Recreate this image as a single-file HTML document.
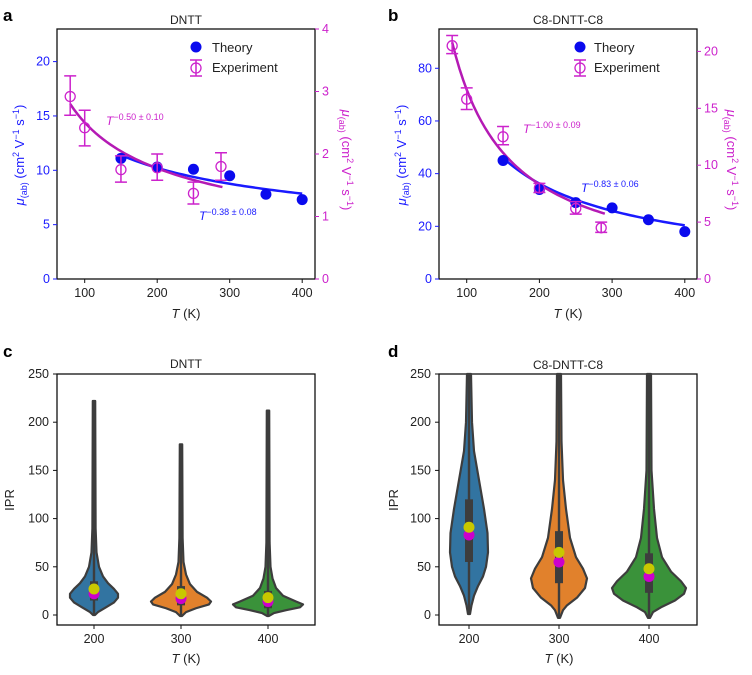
<!DOCTYPE html><html><head><meta charset="utf-8"><style>
body{margin:0;background:#fff;width:752px;height:670px;overflow:hidden}
svg{font-family:"Liberation Sans",sans-serif}
</style></head><body>
<svg id="s" width="752" height="670" xmlns="http://www.w3.org/2000/svg">
<g font-size="12" fill="#222">
<text x="3" y="21" font-size="17" font-weight="bold" fill="#000">a</text>
<text x="388" y="21" font-size="17" font-weight="bold" fill="#000">b</text>
<text x="3" y="357" font-size="17" font-weight="bold" fill="#000">c</text>
<text x="388" y="357" font-size="17" font-weight="bold" fill="#000">d</text>
<text x="186" y="24" text-anchor="middle">DNTT</text>
<text x="568" y="24" text-anchor="middle">C8-DNTT-C8</text>
<text x="186" y="368" text-anchor="middle">DNTT</text>
<text x="568" y="369" text-anchor="middle">C8-DNTT-C8</text>
<text x="186" y="318" text-anchor="middle" font-size="13"><tspan font-style="italic">T</tspan> (K)</text>
<text x="568" y="318" text-anchor="middle" font-size="13"><tspan font-style="italic">T</tspan> (K)</text>
<text x="186" y="663" text-anchor="middle" font-size="13"><tspan font-style="italic">T</tspan> (K)</text>
<text x="559" y="663" text-anchor="middle" font-size="13"><tspan font-style="italic">T</tspan> (K)</text>
<text transform="translate(14,500) rotate(-90)" text-anchor="middle" font-size="13">IPR</text>
<text transform="translate(398,500) rotate(-90)" text-anchor="middle" font-size="13">IPR</text>
<text transform="translate(24,155) rotate(-90)" text-anchor="middle" font-size="13" fill="#1a1aff"><tspan font-style="italic">μ</tspan><tspan font-size="9" dy="3">(ab)</tspan><tspan dy="-3"> (cm</tspan><tspan font-size="9" dy="-5">2</tspan><tspan dy="5"> V</tspan><tspan font-size="9" dy="-5">−1</tspan><tspan dy="5"> s</tspan><tspan font-size="9" dy="-5">−1</tspan><tspan dy="5">)</tspan></text>
<text transform="translate(406,155) rotate(-90)" text-anchor="middle" font-size="13" fill="#1a1aff"><tspan font-style="italic">μ</tspan><tspan font-size="9" dy="3">(ab)</tspan><tspan dy="-3"> (cm</tspan><tspan font-size="9" dy="-5">2</tspan><tspan dy="5"> V</tspan><tspan font-size="9" dy="-5">−1</tspan><tspan dy="5"> s</tspan><tspan font-size="9" dy="-5">−1</tspan><tspan dy="5">)</tspan></text>
<text transform="translate(342,160) rotate(90)" text-anchor="middle" font-size="13" fill="#cc22cc"><tspan font-style="italic">μ</tspan><tspan font-size="9" dy="3">(ab)</tspan><tspan dy="-3"> (cm</tspan><tspan font-size="9" dy="-5">2</tspan><tspan dy="5"> V</tspan><tspan font-size="9" dy="-5">−1</tspan><tspan dy="5"> s</tspan><tspan font-size="9" dy="-5">−1</tspan><tspan dy="5">)</tspan></text>
<text transform="translate(727,160) rotate(90)" text-anchor="middle" font-size="13" fill="#cc22cc"><tspan font-style="italic">μ</tspan><tspan font-size="9" dy="3">(ab)</tspan><tspan dy="-3"> (cm</tspan><tspan font-size="9" dy="-5">2</tspan><tspan dy="5"> V</tspan><tspan font-size="9" dy="-5">−1</tspan><tspan dy="5"> s</tspan><tspan font-size="9" dy="-5">−1</tspan><tspan dy="5">)</tspan></text>
<text x="212" y="52" font-size="13">Theory</text>
<text x="212" y="72" font-size="13">Experiment</text>
<text x="594" y="52" font-size="13">Theory</text>
<text x="594" y="72" font-size="13">Experiment</text>
<text x="106" y="125" font-size="12" fill="#cc22cc"><tspan font-style="italic">T</tspan><tspan font-size="9" dy="-5">−0.50 ± 0.10</tspan></text>
<text x="199" y="220" font-size="12" fill="#1a1aff"><tspan font-style="italic">T</tspan><tspan font-size="9" dy="-5">−0.38 ± 0.08</tspan></text>
<text x="523" y="133" font-size="12" fill="#cc22cc"><tspan font-style="italic">T</tspan><tspan font-size="9" dy="-5">−1.00 ± 0.09</tspan></text>
<text x="581" y="192" font-size="12" fill="#1a1aff"><tspan font-style="italic">T</tspan><tspan font-size="9" dy="-5">−0.83 ± 0.06</tspan></text>
</g>
<g id="tk" font-size="12.5"></g>
<g id="g"></g>
</svg>
<script>
var NS="http://www.w3.org/2000/svg",G=document.getElementById('g'),TK=document.getElementById('tk');
function el(t,a,p){var e=document.createElementNS(NS,t);for(var k in a)e.setAttribute(k,a[k]);(p||G).appendChild(e);return e;}
function txt(x,y,s,c,anc){var e=el('text',{x:x,y:y,fill:c,'text-anchor':anc},TK);e.textContent=s;}
function frame(l,r,t,b){el('rect',{x:l,y:t,width:r-l,height:b-t,fill:'none',stroke:'#111','stroke-width':1.3});}
function panel(P){
 frame(P.l,P.r,29,279);
 var X=function(T){return P.x100+(T-100)*P.kx;},YL=function(v){return 279-v*P.kl;},YR=function(v){return 279-v*P.kr;};
 P.lt.forEach(function(v){var y=YL(v);el('line',{x1:P.l-4,x2:P.l,y1:y,y2:y,stroke:'#1a1aff'});txt(P.l-7,y+4,v,'#1a1aff','end');});
 P.rt.forEach(function(v){var y=YR(v);el('line',{x1:P.r,x2:P.r+4,y1:y,y2:y,stroke:'#cc22cc'});txt(P.r+7,y+4,v,'#cc22cc','start');});
 [100,200,300,400].forEach(function(T){var x=X(T);el('line',{x1:x,x2:x,y1:279,y2:283,stroke:'#111'});txt(x,297,T,'#222','middle');});
 var d='';for(var T=150;T<=400;T+=5){d+=(T==150?'M':'L')+X(T)+','+YL(P.b0*Math.pow(150/T,P.bp));}
 el('path',{d:d,fill:'none',stroke:'#1a1aff','stroke-width':2.5});
 d='';for(var T=80;T<=P.mend;T+=5){d+=(T==80?'M':'L')+X(T)+','+YR(P.m0*Math.pow(80/T,P.mp));}
 el('path',{d:d,fill:'none',stroke:'#b41ab4','stroke-width':2.5});
 P.th.forEach(function(p){el('circle',{cx:X(p[0]),cy:YL(p[1]),r:5.5,fill:'#0a0aee'});});
 P.ex.forEach(function(p){var x=X(p[0]);el('path',{d:'M'+(x-6)+','+YR(p[2])+'h12M'+(x-6)+','+YR(p[3])+'h12M'+x+','+YR(p[2])+'V'+YR(p[3]),stroke:'#cc22cc','stroke-width':1.5,fill:'none'});el('circle',{cx:x,cy:YR(p[1]),r:5,fill:'none',stroke:'#cc22cc','stroke-width':1.3});});
 el('circle',{cx:P.lg,cy:47,r:5.5,fill:'#0a0aee'});
 var x=P.lg;el('path',{d:'M'+(x-6)+',60h12M'+(x-6)+',76h12M'+x+',60V76',stroke:'#cc22cc','stroke-width':1.5,fill:'none'});el('circle',{cx:x,cy:68,r:5,fill:'none',stroke:'#cc22cc','stroke-width':1.3});
}
panel({l:57,r:315,x100:84.7,kx:0.725,kl:10.87,kr:62.5,lt:[0,5,10,15,20],rt:[0,1,2,3,4],b0:11.4,bp:0.38,m0:2.8,mp:0.5,mend:290,
 th:[[150,11.1],[200,10.3],[250,10.1],[300,9.5],[350,7.8],[400,7.3]],
 ex:[[80,2.92,2.62,3.25],[100,2.42,2.13,2.7],[150,1.75,1.55,1.97],[200,1.78,1.58,2.0],[250,1.37,1.2,1.55],[288,1.8,1.58,2.02]],lg:196});
panel({l:439,r:697,x100:466.7,kx:0.727,kl:2.634,kr:11.38,lt:[0,20,40,60,80],rt:[0,5,10,15,20],b0:46,bp:0.83,m0:20.8,mp:1,mend:290,
 th:[[150,45],[200,34],[250,29],[300,27],[350,22.5],[400,18]],
 ex:[[80,20.5,19.8,21.4],[100,15.8,14.9,16.8],[150,12.5,11.8,13.4],[200,8,7.6,8.4],[250,6.2,5.7,6.8],[285,4.5,4.1,5]],lg:580});
function vpanel(P){
 frame(P.l,P.r,374,625);
 var Y=function(v){return 615-v*0.964;};
 [0,50,100,150,200,250].forEach(function(v){var y=Y(v);el('line',{x1:P.l-4,x2:P.l,y1:y,y2:y,stroke:'#111'});txt(P.l-8,y+4,v,'#222','end');});
 P.v.forEach(function(V,i){
  var x=P.xs[i];el('line',{x1:x,x2:x,y1:625,y2:629,stroke:'#111'});txt(x,643,[200,300,400][i],'#222','middle');
  var pr=V.p,R='',L='';
  for(var j=0;j<pr.length;j++){var y=Math.max(374,Y(pr[j][0]));R+=(j?'L':'M')+(x+pr[j][1])+','+y;}
  for(var j=pr.length-1;j>=0;j--){var y=Math.max(374,Y(pr[j][0]));L+='L'+(x-pr[j][1])+','+y;}
  el('path',{d:R+L+'Z',fill:V.c,stroke:'#3d3d3d','stroke-width':2.2,'stroke-linejoin':'round'});
  el('line',{x1:x,x2:x,y1:Math.max(374,Y(pr[pr.length-1][0])),y2:Y(pr[0][0]),stroke:'#3d3d3d','stroke-width':2.4});
  el('rect',{x:x-4,y:Y(V.q[1]),width:8,height:Y(V.q[0])-Y(V.q[1]),fill:'#3d3d3d'});
  el('circle',{cx:x,cy:Y(V.med),r:5.5,fill:'#cc00cc'});
  el('circle',{cx:x,cy:Y(V.mean),r:5.5,fill:'#c8c800'});
 });
}
vpanel({l:57,r:315,xs:[94,181,268],v:[
 {c:'#3274a1',q:[15,35],med:22,mean:27,p:[[0,1],[3,4],[8,12],[13,20],[18,24],[22,24],[27,20],[33,14],[40,9],[50,5],[65,2.5],[90,1.6],[222,1.2]]},
 {c:'#e1812c',q:[10,30],med:17,mean:22,p:[[-1,1],[3,5],[7,15],[11,28],[14,30],[18,26],[24,16],[32,9],[42,5],[55,2.5],[80,1.6],[177,1.2]]},
 {c:'#3a923a',q:[7,25],med:14,mean:18,p:[[-1,1],[2,6],[5,18],[8,32],[11,35],[14,28],[20,15],[28,8],[38,4.5],[50,2.5],[75,1.6],[212,1.2]]}]});
vpanel({l:439,r:697,xs:[469,559,649],v:[
 {c:'#3274a1',q:[55,120],med:83,mean:91,p:[[1,1],[10,2.5],[20,5],[30,9],[40,14],[50,17],[65,19],[85,18.5],[110,15],[140,10],[170,5],[200,3],[260,2]]},
 {c:'#e1812c',q:[33,87],med:55,mean:65,p:[[-3,1],[5,4],[10,8],[18,18],[28,26],[38,28],[48,24],[60,17],[80,11],[110,7],[140,4],[180,2.5],[260,2]]},
 {c:'#3a923a',q:[23,64],med:40,mean:48,p:[[-3,1],[3,4],[8,12],[15,26],[22,35],[28,37],[35,32],[45,22],[60,13],[80,8],[110,5],[150,2.5],[260,2]]}]});
</script>
</body></html>
